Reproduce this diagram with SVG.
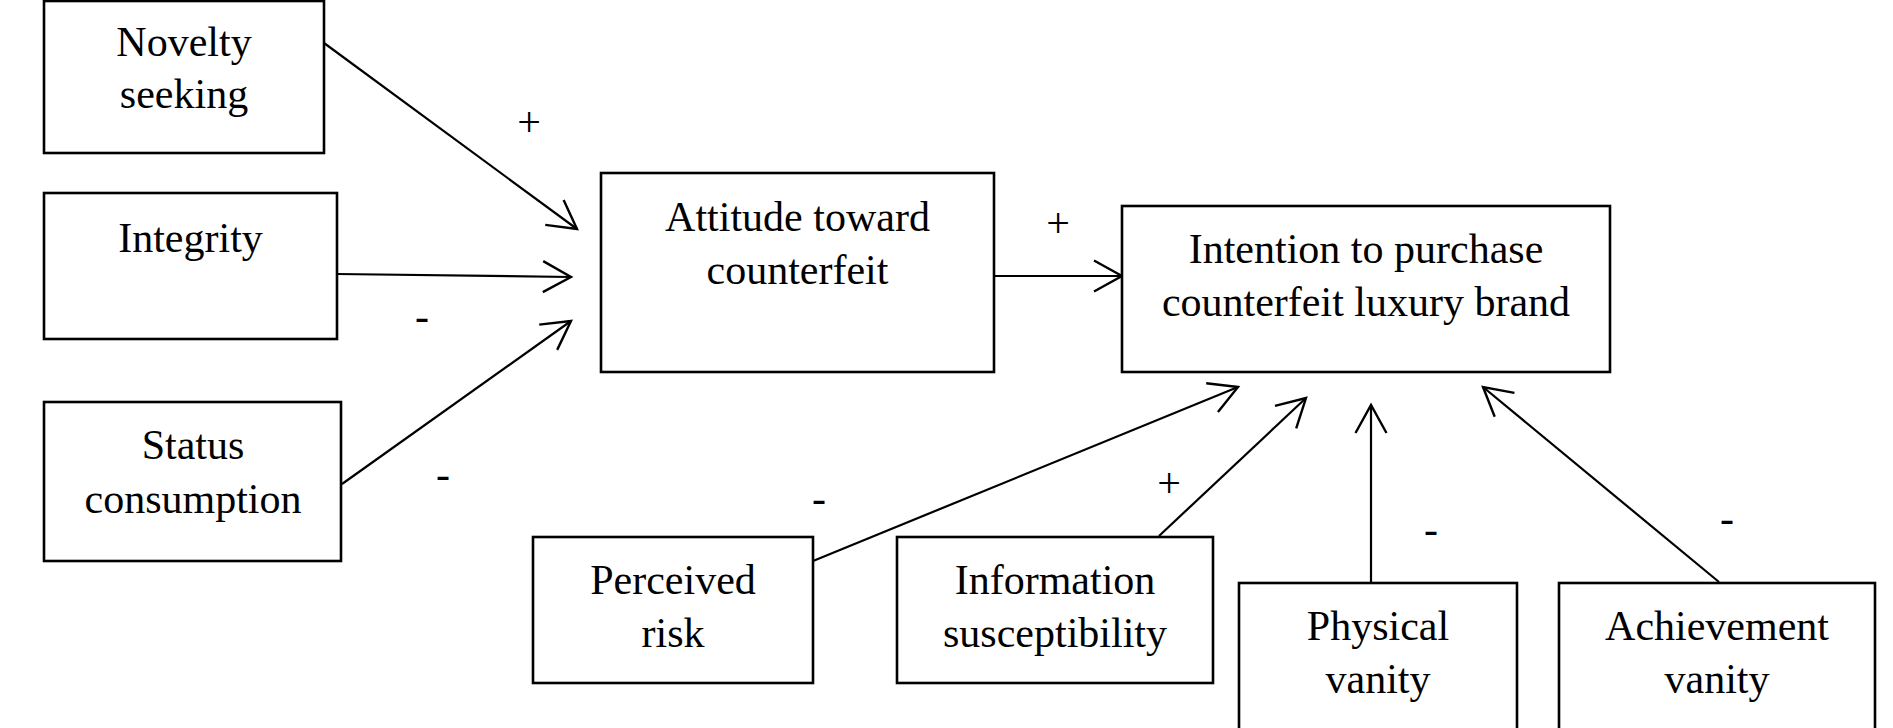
<svg xmlns="http://www.w3.org/2000/svg" width="1893" height="728" viewBox="0 0 1893 728">
<style>
.box{fill:#fff;stroke:#000;stroke-width:2.6}
.t{font-family:"Liberation Serif","Times New Roman",serif;font-size:42px;fill:#000;text-anchor:middle}
.c{fill:none;stroke:#000;stroke-width:2.2}
</style>
<defs>
<marker id="ah" markerUnits="userSpaceOnUse" markerWidth="40" markerHeight="40" viewBox="-32 -20 40 40" refX="0" refY="0" orient="auto" overflow="visible">
<path d="M-28,-15.5 L0,0 L-28,15.5" fill="none" stroke="#000" stroke-width="2.4"/>
</marker>
</defs>
<rect width="1893" height="728" fill="#fff"/>
<g id="connectors">
<line class="c" x1="324" y1="43" x2="577" y2="229" marker-end="url(#ah)"/>
<line class="c" x1="337" y1="274" x2="571" y2="277" marker-end="url(#ah)"/>
<line class="c" x1="342" y1="484" x2="571" y2="321" marker-end="url(#ah)"/>
<line class="c" x1="994" y1="276" x2="1122" y2="276" marker-end="url(#ah)"/>
<line class="c" x1="813" y1="561" x2="1238" y2="387" marker-end="url(#ah)"/>
<line class="c" x1="1159" y1="536" x2="1306" y2="398" marker-end="url(#ah)"/>
<line class="c" x1="1371" y1="583" x2="1371" y2="405" marker-end="url(#ah)"/>
<line class="c" x1="1719" y1="582" x2="1483" y2="387" marker-end="url(#ah)"/>
<text class="t" x="529" y="136">+</text>
<text class="t" x="422" y="330">-</text>
<text class="t" x="443" y="488">-</text>
<text class="t" x="1058" y="237">+</text>
<text class="t" x="819" y="512">-</text>
<text class="t" x="1169" y="497">+</text>
<text class="t" x="1431" y="543">-</text>
<text class="t" x="1727" y="532">-</text>
</g>
<g id="novelty">
<rect class="box" x="44" y="1" width="280" height="152"/>
<text class="t" x="184" y="56">Novelty</text>
<text class="t" x="184" y="108">seeking</text>
</g>
<g id="integrity">
<rect class="box" x="44" y="193" width="293" height="146"/>
<text class="t" x="190.5" y="252">Integrity</text>
</g>
<g id="status">
<rect class="box" x="44" y="402" width="297" height="159"/>
<text class="t" x="193" y="459">Status</text>
<text class="t" x="193" y="513">consumption</text>
</g>
<g id="attitude">
<rect class="box" x="601" y="173" width="393" height="199"/>
<text class="t" x="797.5" y="231">Attitude toward</text>
<text class="t" x="797.5" y="284">counterfeit</text>
</g>
<g id="intention">
<rect class="box" x="1122" y="206" width="488" height="166"/>
<text class="t" x="1366" y="263">Intention to purchase</text>
<text class="t" x="1366" y="316">counterfeit luxury brand</text>
</g>
<g id="risk">
<rect class="box" x="533" y="537" width="280" height="146"/>
<text class="t" x="673" y="594">Perceived</text>
<text class="t" x="673" y="647">risk</text>
</g>
<g id="information">
<rect class="box" x="897" y="537" width="316" height="146"/>
<text class="t" x="1055" y="594">Information</text>
<text class="t" x="1055" y="647">susceptibility</text>
</g>
<g id="physical">
<rect class="box" x="1239" y="583" width="278" height="160"/>
<text class="t" x="1378" y="640">Physical</text>
<text class="t" x="1378" y="693">vanity</text>
</g>
<g id="achievement">
<rect class="box" x="1559" y="583" width="316" height="160"/>
<text class="t" x="1717" y="640">Achievement</text>
<text class="t" x="1717" y="693">vanity</text>
</g>
</svg>
